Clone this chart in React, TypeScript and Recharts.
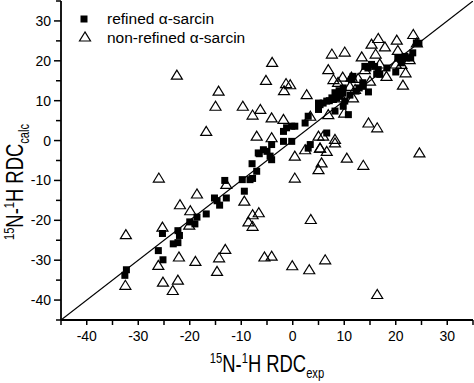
import React from "react";
import {
  ScatterChart,
  Scatter,
  XAxis,
  YAxis,
  ReferenceLine,
  Legend,
  Label
} from "recharts";

// refined alpha-sarcin (filled squares)
const refinedExp = [
  -32.6, -32.3, -26.1, -25.2, -25.3, -23.2, -22.3, -22.3, -22.0, -20.0, -19.0, -18.6,
  -16.8, -15.2, -14.7, -14.2, -12.9, -13.2, -9.8, -9.4, -8.3, -7.8, -7.9, -7.0, -6.7,
  -6.5, -5.7, -5.0, -4.4, -4.1, -4.1, -1.8, -1.8, -1.2, -0.2, 0.4, -0.2, 2.4, 3.0,
  3.4, 3.0, 5.0, 5.0, 5.3, 5.9, 6.6, 7.1, 7.6, 8.2, 8.2, 9.0, 9.8, 10.1, 10.8, 6.6,
  11.1, 11.7, 12.3, 12.9, 13.7, 13.6, 14.7, 14.0, 14.6, 15.3, 15.9, 16.3, 16.6, 16.9,
  18.3, 20.0, 20.4, 20.8, 21.1, 21.8, 22.1, 22.9, 23.3, 24.0, 24.5, 7.9, 8.5, 9.2,
  9.7, 11.4, 9.8
];
const refinedCalc = [
  -33.8, -32.4, -27.6, -29.9, -23.3, -25.9, -25.6, -22.6, -23.8, -20.4, -20.9, -19.2,
  -18.4, -14.4, -15.1, -16.2, -14.4, -10.0, -9.8, -12.7, -9.8, -9.5, -5.8, -7.7, -3.1,
  -3.3, -2.3, -2.7, -3.9, -4.8, -1.0, -0.2, 2.3, 3.2, -0.2, 3.6, 3.6, 4.4, 6.1,
  -1.0, -1.9, 9.4, 7.8, 9.0, 9.4, 9.9, 10.0, 10.7, 12.0, 7.4, 12.5, 13.2, 9.9, 6.5, 1.9,
  11.4, 16.1, 12.4, 13.2, 13.6, 14.5, 12.2, 18.6, 18.2, 19.1, 18.6, 16.7, 17.8, 16.6,
  18.2, 17.2, 20.7, 20.7, 19.5, 21.1, 20.7, 20.7, 22.0, 24.5, 24.4, 10.3, 10.7, 11.1,
  11.9, 15.3, 8.6
];

// non-refined alpha-sarcin (open triangles)
const nonRefinedExp = [
  -32.4, -32.5, -26.0, -26.1, -25.3, -25.2, -23.3, -22.5, -22.1, -22.3, -21.9, -20.1,
  -19.9, -18.9, -18.6, -16.8, -15.0, -14.7, -14.4, -14.3, -13.1, -12.9, -9.7, -9.4,
  -7.8, -7.8, -7.8, -7.0, -6.6, -8.6, -6.3, -5.5, -5.2, -4.1, -4.1, -4.0, -4.1, -1.8,
  -1.7, -1.3, -0.5, -0.1, 0.4, 0.4, 2.4, 2.7, 3.2, 3.4, 3.5, 5.0, 5.0, 5.3, 5.6, 5.9,
  6.3, 6.9, 6.6, 6.9, 7.6, 7.9, 8.2, 8.2, 8.8, 9.5, 9.7, 10.0, 10.1, 10.5, 11.1, 11.4,
  11.7, 12.1, 12.7, 13.4, 13.7, 14.0, 14.7, 15.0, 15.3, 16.1, 16.4, 16.6, 16.4, 16.9,
  17.9, 18.2, 20.0, 20.2, 20.4, 21.1, 21.4, 21.9, 22.7, 23.4, 24.1, 24.6, 5.3
];
const nonRefinedCalc = [
  -23.6, -36.3, -9.4, -31.3, -21.7, -35.5, -37.6, 16.4, -29.2, -35.0, -16.1, -21.2,
  -17.6, -30.3, -13.4, 2.3, 8.6, -32.8, 12.4, -29.4, -27.3, -11.0, 8.6, -15.2,
  6.4, -18.6, -21.5, 1.1, -18.1, -20.4, 7.8, -29.2, 15.1, 0.7, -29.0, 19.6, 5.7, 5.3,
  12.5, 14.3, 14.0, -31.4, -9.4, -3.9, -2.3, 11.5, -32.4, 6.1, -19.8, -7.3, 1.1, -1.9, -5.6, 1.1,
  -29.9, 6.5, -2.7, 17.8, 21.7, 15.3, 0.3, -0.6, 14.6, 10.7, 15.9, 6.9, 22.2, -4.4, 13.6, 15.9,
  10.7, 12.8, 15.6, 21.0, -6.2, 17.8, 4.4, 14.9, 24.2, 21.7, 3.2, 25.6, -38.6, 19.2,
  23.5, 16.1, 19.2, 25.2, 22.6, 19.1, 13.9, 17.0, 20.3, 26.6, 24.5, -3.1, -1.9
];

const axisTicks = [-45, -40, -35, -30, -25, -20, -15, -10, -5, 0, 5, 10, 15, 20, 25, 30, 35];
const domain: [number, number] = [-45, 35];

const refinedData = refinedExp.map((x, i) => ({ x, y: refinedCalc[i] }));
const nonRefinedData = nonRefinedExp.map((x, i) => ({ x, y: nonRefinedCalc[i] }));

const FONT = "'Liberation Sans', Arial, Helvetica, sans-serif";

const makeTick = (orient: string) => (props: any) => {
  const { x, y, payload } = props;
  const v = payload.value;
  const major = v % 10 === 0;
  if (orient === "bottom") {
    return (
      <g>
        <line x1={x} y1={y} x2={x} y2={y + 5} stroke="#000" strokeWidth={1.5} />
        {major && (
          <text x={x} y={y + 21} textAnchor="middle" fontSize={14} fontFamily={FONT} fill="#000">
            {v}
          </text>
        )}
      </g>
    );
  }
  if (orient === "left") {
    return (
      <g>
        <line x1={x - (major ? 7 : 5)} y1={y} x2={x} y2={y} stroke="#000" strokeWidth={1.5} />
        {major && (
          <text x={x - 10} y={y + 5} textAnchor="end" fontSize={14} fontFamily={FONT} fill="#000">
            {v}
          </text>
        )}
      </g>
    );
  }
  if (orient === "top") {
    return <line x1={x} y1={y} x2={x} y2={y + (major ? 7 : 5)} stroke="#000" strokeWidth={1.5} />;
  }
  return <line x1={x} y1={y} x2={x - (major ? 7 : 5)} y2={y} stroke="#000" strokeWidth={1.5} />;
};

const Square = (props: any) => (
  <rect x={props.cx - 3.5} y={props.cy - 3.5} width={7} height={7} fill="#000" />
);

const Triangle = (props: any) => (
  <polygon
    points={`${props.cx},${props.cy - 5} ${props.cx - 5.5},${props.cy + 4} ${props.cx + 5.5},${props.cy + 4}`}
    fill="none"
    stroke="#000"
    strokeWidth={1.2}
  />
);

const LegendBox = () => (
  <svg width={280} height={50} style={{ display: "block" }}>
    <rect x={80.5} y={15.5} width={7} height={7} fill="#000" />
    <polygon points="85,32 79.5,41 90.5,41" fill="none" stroke="#000" strokeWidth={1.2} />
    <text x={107} y={24} fontSize={15.5} fontFamily={FONT} fill="#000">
      refined α-sarcin
    </text>
    <text x={107} y={43} fontSize={15.5} fontFamily={FONT} fill="#000">
      non-refined α-sarcin
    </text>
  </svg>
);

const XTitle = () => (
  <g transform="translate(267,372) scale(0.8,1)">
    <text x={0} y={0} textAnchor="middle" fontSize={23} fontFamily={FONT} fill="#000">
      <tspan fontSize={14} dy={-9}>15</tspan>
      <tspan dy={9}>N-</tspan>
      <tspan fontSize={14} dy={-9}>1</tspan>
      <tspan dy={9}>H RDC</tspan>
      <tspan fontSize={14} dy={6}>exp</tspan>
    </text>
  </g>
);

const YTitle = () => (
  <g transform="translate(23,182) rotate(-90) scale(0.8,1)">
    <text x={0} y={0} textAnchor="middle" fontSize={23} fontFamily={FONT} fill="#000">
      <tspan fontSize={14} dy={-9}>15</tspan>
      <tspan dy={9}>N-</tspan>
      <tspan fontSize={14} dy={-9}>1</tspan>
      <tspan dy={9}>H RDC</tspan>
      <tspan fontSize={14} dy={6}>calc</tspan>
    </text>
  </g>
);

export default function App() {
  return (
    <div style={{ position: "absolute", left: 0, top: 0, background: "#fff" }}>
      <ScatterChart width={474} height={383} margin={{ top: 1, right: 1, left: 0, bottom: 0 }}>
        <XAxis
          type="number"
          dataKey="x"
          xAxisId="b"
          domain={domain}
          ticks={axisTicks}
          allowDataOverflow
          height={63}
          axisLine={{ stroke: "#000", strokeWidth: 1.8 }}
          tickLine={false}
          tickSize={0}
          tickMargin={0}
          tick={makeTick("bottom")}
          interval={0}
        >
          <Label content={<XTitle />} />
        </XAxis>
        <XAxis
          type="number"
          dataKey="x"
          xAxisId="t"
          orientation="top"
          domain={domain}
          ticks={axisTicks}
          allowDataOverflow
          height={0}
          axisLine={{ stroke: "#000", strokeWidth: 1.5 }}
          tickLine={false}
          tickSize={0}
          tickMargin={0}
          tick={makeTick("top")}
          interval={0}
        />
        <YAxis
          type="number"
          dataKey="y"
          yAxisId="l"
          domain={domain}
          ticks={axisTicks}
          allowDataOverflow
          width={61}
          axisLine={{ stroke: "#000", strokeWidth: 1.8 }}
          tickLine={false}
          tickSize={0}
          tickMargin={0}
          tick={makeTick("left")}
          interval={0}
        >
          <Label content={<YTitle />} />
        </YAxis>
        <YAxis
          type="number"
          dataKey="y"
          yAxisId="r"
          orientation="right"
          domain={domain}
          ticks={axisTicks}
          allowDataOverflow
          width={0}
          axisLine={{ stroke: "#000", strokeWidth: 1.5 }}
          tickLine={false}
          tickSize={0}
          tickMargin={0}
          tick={makeTick("right")}
          interval={0}
        />
        <ReferenceLine
          xAxisId="b"
          yAxisId="l"
          segment={[
            { x: -45, y: -45 },
            { x: 35, y: 35 }
          ]}
          stroke="#000"
          strokeWidth={1.2}
          ifOverflow="hidden"
        />
        <Scatter
          name="refined α-sarcin"
          data={refinedData}
          xAxisId="b"
          yAxisId="l"
          shape={Square}
          isAnimationActive={false}
        />
        <Scatter
          name="non-refined α-sarcin"
          data={nonRefinedData}
          xAxisId="b"
          yAxisId="l"
          shape={Triangle}
          isAnimationActive={false}
        />
        <Legend
          layout="horizontal"
          verticalAlign="middle"
          align="center"
          wrapperStyle={{ top: 0, left: 0, width: 280, height: 50 }}
          content={<LegendBox />}
        />
      </ScatterChart>
    </div>
  );
}
